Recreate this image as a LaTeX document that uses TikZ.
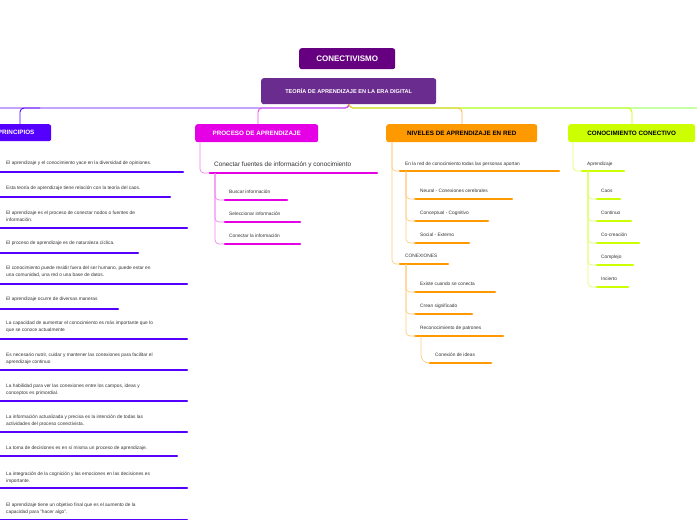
\documentclass[tikz,border=0pt]{standalone}
\usepackage{fontspec}
\setmainfont{Liberation Sans}
\begin{document}
\begin{tikzpicture}[x=1pt,y=-1pt,
 box/.style={rounded corners=2.5pt,anchor=north west,inner sep=0pt,font=\bfseries\fontsize{6.3}{7}\selectfont},
 it/.style={anchor=base west,inner sep=0pt,font=\fontsize{4.8}{7}\selectfont,text=black!80,align=left},
 itp/.style={anchor=north west,inner sep=0pt,font=\fontsize{4.8}{7}\selectfont,text=black!80,align=left},
 ul/.style={line width=2.2pt,line cap=round},
 cn/.style={line width=0.7pt,rounded corners=4pt}]
\definecolor{cpur}{HTML}{660080}\definecolor{cpur2}{HTML}{6A2C8E}
\definecolor{cblue}{HTML}{5500FF}\definecolor{cmag}{HTML}{E600E6}
\definecolor{cora}{HTML}{FF9900}\definecolor{cgre}{HTML}{CCFF00}
\clip (0,0) rectangle (697,520);
\fill[white] (0,0) rectangle (697,520);
% top
\node[box,fill=cpur,text=white,minimum width=96pt,minimum height=21pt,anchor=north west] (top) at (299,48) {};
\node[text=white,font=\bfseries\fontsize{8}{9}\selectfont] at (top.center) {CONECTIVISMO};
\node[box,fill=cpur2,text=white,minimum width=175pt,minimum height=26pt] (sub) at (261,78) {};
\node[text=white,font=\bfseries\fontsize{5.6}{7}\selectfont] at (sub.center) {TEORÍA DE APRENDIZAJE EN LA ERA DIGITAL};
% main connectors
\coordinate (hub) at (349,104);
\draw[cblue,line width=0.9pt,rounded corners=4pt] (hub) |- (0,108);
\draw[cblue,line width=0.9pt,rounded corners=4pt] (40,108) -| (20,124);
\draw[cmag!70,line width=0.9pt,rounded corners=4pt] (hub) |- (258,108) -- (258,124);
\draw[cgre!50!green,line width=0.9pt,rounded corners=4pt] (hub) |- (697,108);
\draw[cgre,line width=0.9pt,rounded corners=4pt] (hub) |- (632,108) -- (632,124);
\draw[cora!70,line width=0.9pt,rounded corners=4pt] (hub) |- (462,108) -- (462,124);
% category boxes
\node[box,fill=cblue,text=white,minimum width=70pt,minimum height=17pt] (pr) at (-19,124) {};
\node[text=white,font=\bfseries\fontsize{6.3}{7}\selectfont] at (pr.center) {PRINCIPIOS};
\node[box,fill=cmag,text=white,minimum width=123pt,minimum height=18pt] (pa) at (195,124) {};
\node[text=white,font=\bfseries\fontsize{6.3}{7}\selectfont] at (pa.center) {PROCESO DE APRENDIZAJE};
\node[box,fill=cora,minimum width=151pt,minimum height=18pt] (ni) at (386,124) {};
\node[font=\bfseries\fontsize{6.3}{7}\selectfont] at (ni.center) {NIVELES DE APRENDIZAJE EN RED};
\node[box,fill=cgre,minimum width=127pt,minimum height=18pt] (co) at (568,124) {};
\node[font=\bfseries\fontsize{6.3}{7}\selectfont] at (co.center) {CONOCIMIENTO CONECTIVO};
% principios
\foreach \ty/\ly/\e/\t in {
165/172/183/{El aprendizaje y el conocimiento yace en la diversidad de opiniones.},
190/197/170/{Esta teoría de aprendizaje tiene relación con la teoría del caos.},
215/228/187/{El aprendizaje es el proceso de conectar nodos o fuentes de\\información.},
245/253/138/{El proceso de aprendizaje es de naturaleza cíclica.},
270/284/187/{El conocimiento puede residir fuera del ser humano, puede estar en\\una comunidad, una red o una base de datos.},
301/309/118/{El aprendizaje ocurre de diversas maneras},
325/339/187/{La capacidad de aumentar el conocimiento es más importante que lo\\que se conoce actualmente},
357/370/187/{Es necesario nutrir, cuidar y mantener las conexiones para facilitar el\\aprendizaje continuo},
388/401/187/{La habilidad para ver las conexiones entre los campos, ideas y\\conceptos es primordial.},
419/432/187/{La información actualizada y precisa es la intención de todas las\\actividades del proceso conectivista.},
450/456/177/{La toma de decisiones es en sí misma un proceso de aprendizaje.},
476/488/187/{La integración de la cognición y las emociones en las decisiones es\\importante.},
507/520/187/{El aprendizaje tiene un objetivo final que es el aumento de la\\capacidad para "hacer algo".}}{
 \node[itp] (p\ty) at (6,\ty-3.8) {\t};
 \draw[ul,cblue] (0,\ly) -- (\e,\ly);
}
% proceso
\draw[cn,cmag!50] (pa.south west) ++(5,0) |- (212,173);
\node[it,font=\fontsize{6.4}{7}\selectfont] (cf) at (214,166) {Conectar fuentes de información y conocimiento};
\draw[ul,cmag] (210,173) -- (377,173);
\draw[cn,cmag!50] (215,173) |- (226,200);
\draw[cn,cmag!50] (215,173) |- (226,222);
\draw[cn,cmag!50] (215,173) |- (226,244);
\foreach \ty/\e/\t in {193/287/{Buscar información},215/300/{Seleccionar información},237/300/{Conectar la información}}{
 \node[it] (m\ty) at (229,\ty) {\t};
 \draw[ul,cmag] (225,\ty+7) -- (\e,\ty+7);
}
% niveles
\draw[cn,cora!50] (392,142) |- (401,171);
\draw[cn,cora!50] (392,142) |- (401,264);
\node[it] (n1) at (405,165) {En la red de conocimiento todas las personas aportan};
\draw[ul,cora] (400,171) -- (559,171);
\node[it] (n2) at (405,257) {CONEXIONES};
\draw[ul,cora] (400,264) -- (448,264);
\foreach \ty/\e/\t in {192/512/{Neural - Conexiones cerebrales},214/488/{Conceptual - Cognitivo},236/469/{Social - Externo},
285/495/{Existe cuando se conecta},307/472/{Crean significado},329/503/{Reconocimiento de patrones}}{
 \node[it] (o\ty) at (420,\ty) {\t};
 \draw[ul,cora] (415,\ty+7) -- (\e,\ty+7);
}
\draw[cn,cora!50] (406,171) |- (416,199);
\draw[cn,cora!50] (406,171) |- (416,221);
\draw[cn,cora!50] (406,171) |- (416,243);
\draw[cn,cora!50] (406,264) |- (416,292);
\draw[cn,cora!50] (406,264) |- (416,314);
\draw[cn,cora!50] (406,264) |- (416,336);
\draw[cn,cora!50,rounded corners=8pt] (421,336) |- (431,363);
\node[it] (ci) at (435,356) {Conexión de ideas};
\draw[ul,cora] (430,363) -- (491,363);
% conocimiento
\draw[cn,cgre!60] (573,142) |- (583,171);
\node[it] (ap) at (587,165) {Aprendizaje};
\draw[ul,cgre] (582,171) -- (624,171);
\foreach \ty/\e/\t in {192/620/Caos,214/631/Continuo,236/639/Co-creación,258/633/Complejo,280/628/Incierto}{
 \node[it] (k\ty) at (601,\ty) {\t};
 \draw[ul,cgre] (597,\ty+7) -- (\e,\ty+7);
 \draw[cn,cgre!60] (588,171) |- (597,\ty+7);
}
\end{tikzpicture}
\end{document}
